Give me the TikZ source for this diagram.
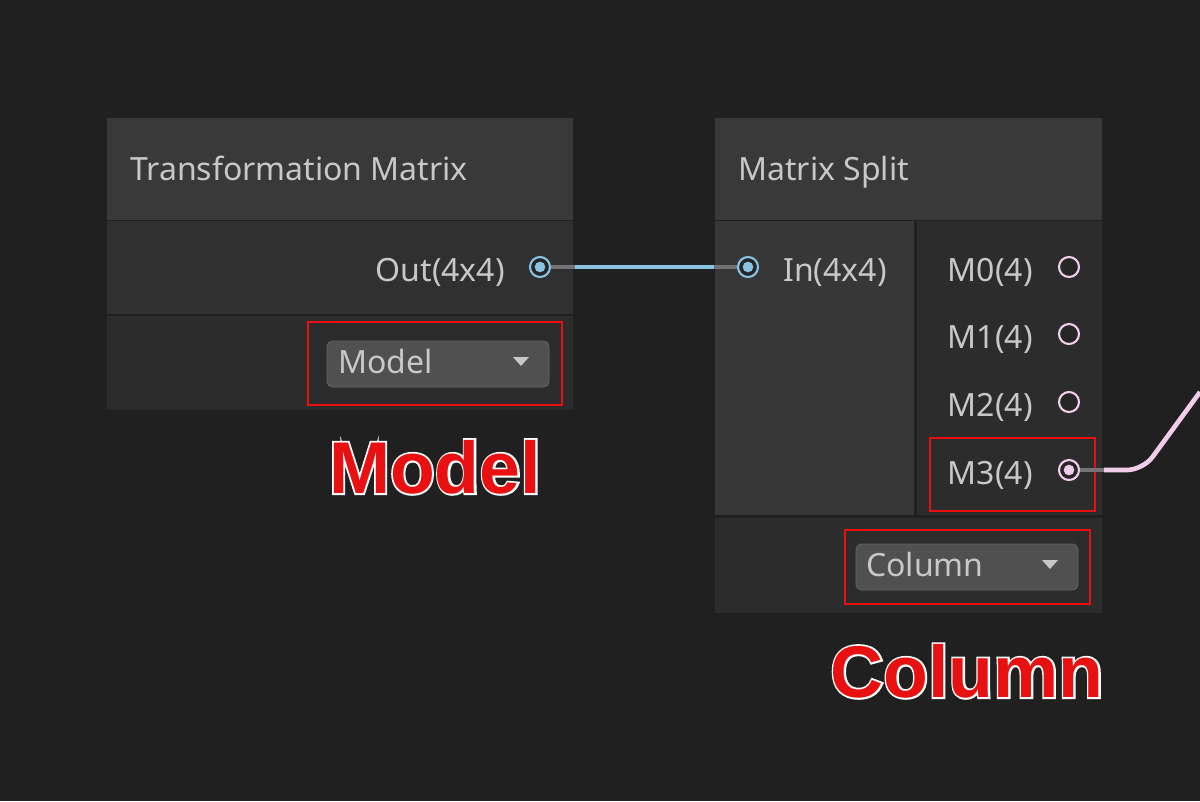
\documentclass[tikz,border=0pt]{standalone}
\usepackage{fontspec}
\setmainfont{Noto Sans}
\newfontfamily\bigf{Liberation Sans}
\newfontfamily\bigo{Liberation Sans}[FakeBold=5]
\begin{document}
\begin{tikzpicture}[x=0.75pt,y=-0.75pt,
  lbl/.style={text=txtc,font=\fontsize{24}{28}\selectfont,inner sep=0},
  port/.style={circle,draw=#1,line width=1.6pt,minimum size=15pt,inner sep=0,fill=portbg},
  dot/.style={circle,fill=#1,minimum size=8pt,inner sep=0},
  drop/.style={fill=dropc,rounded corners=4pt,draw=black!60,line width=0.6pt},
  redbox/.style={draw=redc,line width=1.3pt},
  big/.style={font=\bigf\bfseries\fontsize{55}{60}\selectfont,text=redc,draw=none,inner sep=0},
  bigout/.style={font=\bigo\bfseries\fontsize{55}{60}\selectfont,text=white,draw=none,inner sep=0}]
\definecolor{bgc}{HTML}{202020}
\definecolor{hdrc}{HTML}{393939}
\definecolor{bodyc}{HTML}{303030}
\definecolor{botc}{HTML}{2C2C2C}
\definecolor{inc}{HTML}{373737}
\definecolor{txtc}{HTML}{C8C8C8}
\definecolor{dropc}{HTML}{505050}
\definecolor{redc}{HTML}{E81010}
\definecolor{bluec}{HTML}{8AC2E2}
\definecolor{pinkc}{HTML}{F2CDEA}
\definecolor{portbg}{HTML}{262626}
\fill[bgc] (0,0) rectangle (1200,801);
\useasboundingbox (0,0) rectangle (1200,801);
% node 1
\fill[hdrc] (107,118) rectangle (573,220);
\fill[bodyc] (107,221) rectangle (573,314);
\fill[botc] (107,316) rectangle (573,410);
\node[lbl,anchor=base west] (t1) at (130,180) {Transformation Matrix};
\node[lbl,anchor=base east] (out) at (505,281) {Out(4x4)};
\node[port=bluec] (po) at (540,267) {};
\node[dot=bluec] at (po) {};
\node[drop,minimum width=222*0.75pt,minimum height=46*0.75pt] (d1) at (438,364) {};
\node[lbl,anchor=base west] (m1) at (338,373) {Model};
\fill[txtc] (513,357) -- (529,357) -- (521,366) -- cycle;
\node[redbox,minimum width=254*0.75pt,minimum height=83*0.75pt] (r1) at (435,363.5) {};
\node[bigout] (bmo) at (435,467) {Model};
\node[big] (bm) at (435,467) {Model};
% node 2
\fill[hdrc] (715,118) rectangle (1102,220);
\fill[inc] (715,221) rectangle (914,515);
\fill[botc] (917,221) rectangle (1102,515);
\fill[botc] (715,518) rectangle (1102,613);
\node[lbl,anchor=base west] (t2) at (738,180) {Matrix Split};
\node[port=bluec] (pi) at (748,267) {};
\node[dot=bluec] at (pi) {};
\node[lbl,anchor=base west] (in) at (783,281) {In(4x4)};
\foreach \n/\y in {0/267,1/334,2/402,3/470}{
  \node[lbl,anchor=base east] (lm\n) at (1033,\y+14) {M\n(4)};
  \node[port=pinkc] (pm\n) at (1069,\y) {};
}
\node[dot=pinkc] at (pm3) {};
\node[redbox,minimum width=165*0.75pt,minimum height=73*0.75pt] (r2) at (1012.5,474.5) {};
\node[drop,minimum width=222*0.75pt,minimum height=46*0.75pt] (d2) at (967,567) {};
\node[lbl,anchor=base west] (c2) at (866,576) {Column};
\fill[txtc] (1042,560) -- (1058,560) -- (1050,569) -- cycle;
\node[redbox,minimum width=245*0.75pt,minimum height=74*0.75pt] (r3) at (967.5,567) {};
\node[bigout] (bco) at (967,671) {Column};
\node[big] (bc) at (967,671) {Column};
% connectors
\coordinate (a1) at (575,267);
\coordinate (a2) at (714,267);
\draw[line width=3pt,black!55] (po.east) -- (a1);
\draw[line width=3pt,black!55] (a2) -- (pi.west);
\draw[line width=3.5pt,bluec] (a1) -- (a2);
\coordinate (b1) at (1104,470);
\coordinate (b2) at (1200,392);
\draw[line width=3pt,black!55] (pm3.east) -- (b1);
\draw[line width=3.5pt,pinkc,rounded corners=12pt] (b1) -- (1143,470) -- (b2);
\end{tikzpicture}
\end{document}
